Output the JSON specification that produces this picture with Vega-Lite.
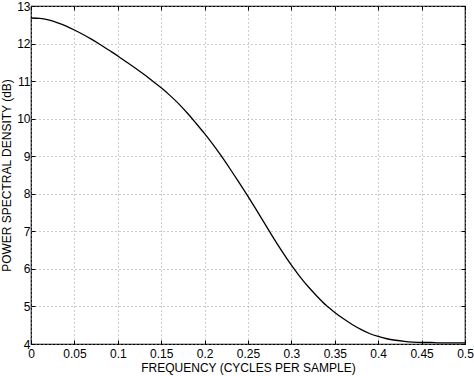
{
  "$schema": "https://vega.github.io/schema/vega-lite/v6.json",
  "width": 434,
  "height": 338,
  "autosize": {"type": "none"},
  "padding": {"left": 31, "top": 6, "right": 9, "bottom": 32},
  "background": "white",
  "config": {
    "view": {"stroke": "black", "strokeWidth": 1.2},
    "font": "Liberation Sans",
    "axis": {"labelFont": "Liberation Sans", "titleFont": "Liberation Sans", "labelFontSize": 12, "titleFontSize": 12, "titleFontWeight": "normal", "labelColor": "black", "titleColor": "black", "domain": false, "tickColor": "black", "tickSize": -4, "gridColor": "#9a9a9a", "gridDash": [1, 3], "gridWidth": 1}
  },
  "data": {"values": [
    {"f": 0.0, "p": 12.68}, {"f": 0.01, "p": 12.67}, {"f": 0.02, "p": 12.63}, {"f": 0.03, "p": 12.56},
    {"f": 0.04, "p": 12.47}, {"f": 0.05, "p": 12.36}, {"f": 0.06, "p": 12.24}, {"f": 0.07, "p": 12.11},
    {"f": 0.08, "p": 11.97}, {"f": 0.09, "p": 11.82}, {"f": 0.1, "p": 11.67}, {"f": 0.11, "p": 11.51},
    {"f": 0.12, "p": 11.35}, {"f": 0.13, "p": 11.18}, {"f": 0.14, "p": 11.0}, {"f": 0.15, "p": 10.82},
    {"f": 0.16, "p": 10.62}, {"f": 0.17, "p": 10.4}, {"f": 0.18, "p": 10.15}, {"f": 0.19, "p": 9.88},
    {"f": 0.2, "p": 9.6}, {"f": 0.21, "p": 9.3}, {"f": 0.22, "p": 8.98}, {"f": 0.23, "p": 8.64},
    {"f": 0.24, "p": 8.29}, {"f": 0.25, "p": 7.93}, {"f": 0.26, "p": 7.56}, {"f": 0.27, "p": 7.18},
    {"f": 0.28, "p": 6.8}, {"f": 0.29, "p": 6.44}, {"f": 0.3, "p": 6.1}, {"f": 0.31, "p": 5.79},
    {"f": 0.32, "p": 5.51}, {"f": 0.33, "p": 5.26}, {"f": 0.34, "p": 5.03}, {"f": 0.35, "p": 4.84},
    {"f": 0.36, "p": 4.67}, {"f": 0.37, "p": 4.52}, {"f": 0.38, "p": 4.39}, {"f": 0.39, "p": 4.28},
    {"f": 0.4, "p": 4.2}, {"f": 0.41, "p": 4.14}, {"f": 0.42, "p": 4.1}, {"f": 0.43, "p": 4.07},
    {"f": 0.44, "p": 4.05}, {"f": 0.45, "p": 4.04}, {"f": 0.46, "p": 4.04}, {"f": 0.47, "p": 4.03},
    {"f": 0.48, "p": 4.03}, {"f": 0.49, "p": 4.03}, {"f": 0.5, "p": 4.03}
  ]},
  "layer": [
    {
      "mark": {"type": "line", "color": "black", "strokeWidth": 1.3, "interpolate": "monotone"},
      "encoding": {
        "x": {"field": "f", "type": "quantitative", "scale": {"domain": [0, 0.5], "nice": false},
          "axis": {"title": "FREQUENCY (CYCLES PER SAMPLE)", "format": "~g", "values": [0, 0.05, 0.1, 0.15, 0.2, 0.25, 0.3, 0.35, 0.4, 0.45, 0.5], "labelFlush": false, "labelPadding": 8, "titlePadding": 3, "labelOverlap": false}},
        "y": {"field": "p", "type": "quantitative", "scale": {"domain": [4, 13], "nice": false, "zero": false},
          "axis": {"title": "POWER SPECTRAL DENSITY (dB)", "format": "d", "values": [4, 5, 6, 7, 8, 9, 10, 11, 12, 13], "labelFlush": false, "labelPadding": 5, "titlePadding": 3, "labelOverlap": false}}
      }
    },
    {
      "mark": {"type": "line", "opacity": 0},
      "encoding": {
        "x": {"field": "f", "type": "quantitative", "scale": {"domain": [0, 0.5], "nice": false},
          "axis": {"orient": "top", "labels": false, "grid": false, "title": null, "values": [0, 0.05, 0.1, 0.15, 0.2, 0.25, 0.3, 0.35, 0.4, 0.45, 0.5]}},
        "y": {"field": "p", "type": "quantitative", "scale": {"domain": [4, 13], "nice": false, "zero": false},
          "axis": {"orient": "right", "labels": false, "grid": false, "title": null, "values": [4, 5, 6, 7, 8, 9, 10, 11, 12, 13]}}
      }
    }
  ],
  "resolve": {"axis": {"x": "independent", "y": "independent"}}
}
